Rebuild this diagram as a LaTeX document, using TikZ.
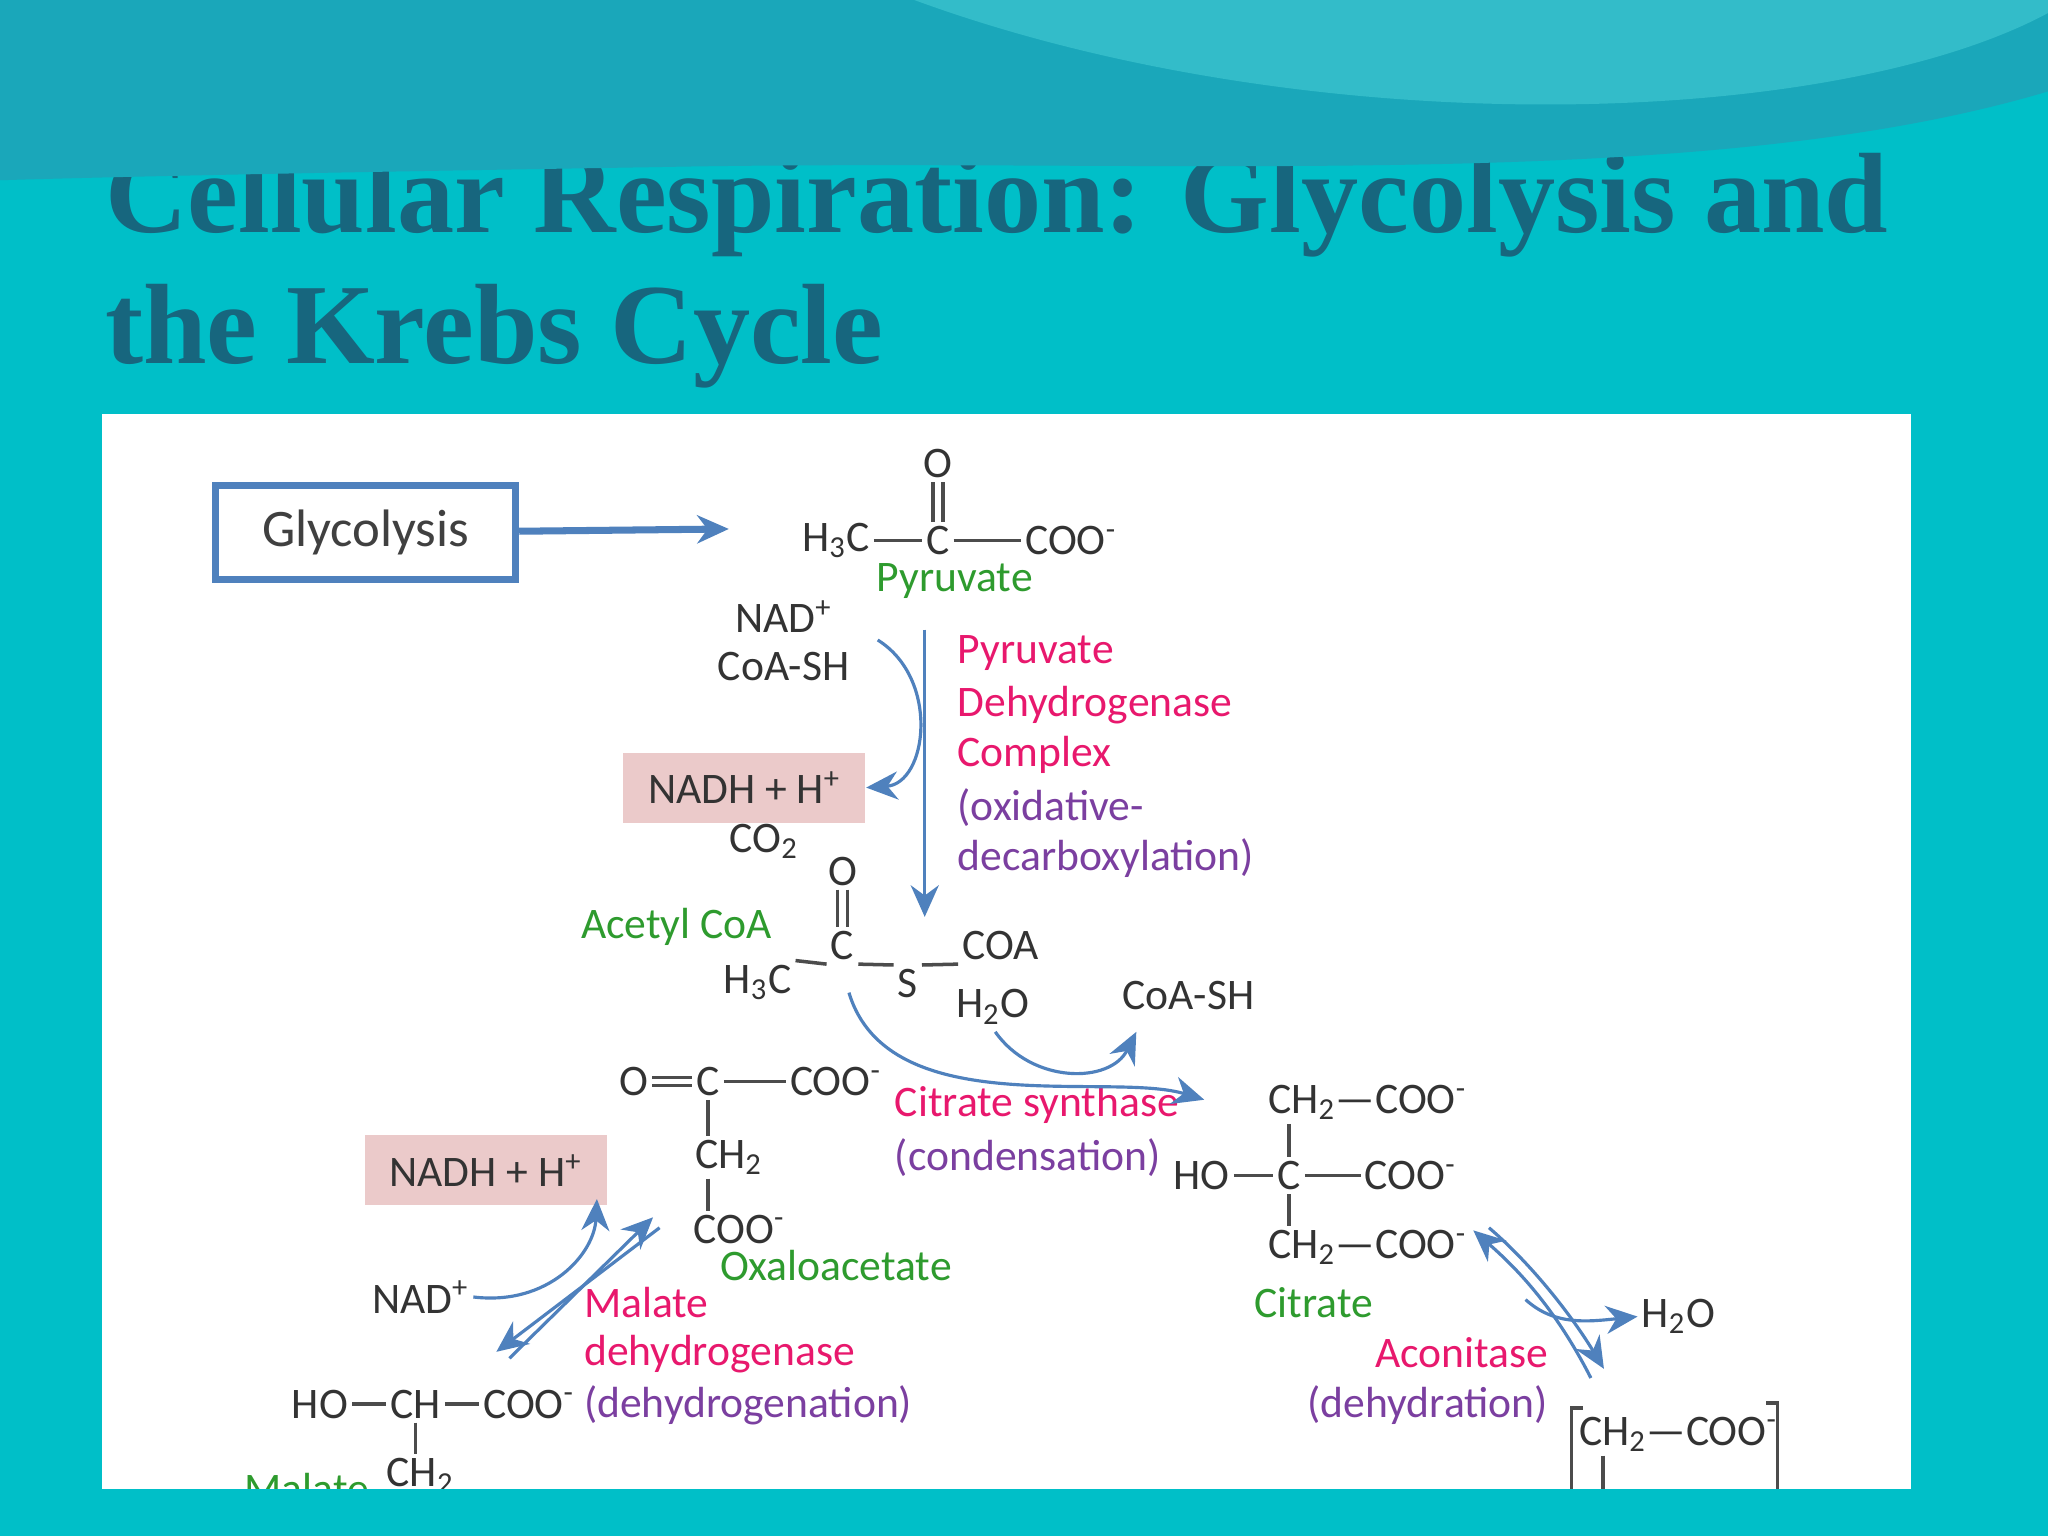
\documentclass[tikz,border=0pt]{standalone}
\usepackage{fontspec}
\setmainfont{Liberation Serif}
\setsansfont{Carlito}
\usetikzlibrary{arrows.meta}
\definecolor{sea}{HTML}{00BFC8}
\definecolor{wave}{HTML}{1AA7BA}
\definecolor{titlec}{HTML}{17667E}
\definecolor{arrowc}{HTML}{4F81BD}
\definecolor{enzc}{HTML}{E8186D}
\definecolor{procc}{HTML}{7B3FA0}
\definecolor{namec}{HTML}{2E9B2E}
\definecolor{boxc}{HTML}{EBCACA}
\newcommand{\sub}[1]{\textsubscript{#1}}
\newcommand{\chg}[1]{\textsuperscript{#1}}
\begin{document}
\begin{tikzpicture}[x=0.01306cm,y=-0.01306cm,>={Stealth[length=9pt,width=8pt]},
  chem/.style={font=\sffamily\fontsize{12.4}{14}\selectfont,text=black!80,inner sep=1pt},
  enz/.style={font=\sffamily\fontsize{12.4}{14}\selectfont,text=enzc,inner sep=1pt,anchor=west},
  proc/.style={font=\sffamily\fontsize{12.4}{14}\selectfont,text=procc,inner sep=1pt,anchor=west},
  cname/.style={font=\sffamily\fontsize{12.4}{14}\selectfont,text=namec,inner sep=1pt},
  prod/.style={chem,fill=boxc,minimum width=2.42cm,minimum height=0.7cm},
  bond/.style={black!70,line width=1pt},
  rxn/.style={->,arrowc,line width=0.9pt}]
  \useasboundingbox (0,0) rectangle (1568,1176);

  % slide background
  \fill[sea] (0,0) rectangle (1568,1176);
  \node (title1) at (80,178) [anchor=base west,font=\bfseries\fontsize{32.5}{36}\selectfont,text=titlec,inner sep=0pt]
    {Cellular Respiration: Glycolysis and};
  \fill[wave] (0,0) -- (1568,0) -- (1568,70) .. controls (1300,150) and (900,120) .. (500,128)
    .. controls (250,132) and (100,135) .. (0,138) -- cycle;
  \fill[sea!70!white,opacity=0.5] (700,0) .. controls (1000,110) and (1400,100) .. (1568,10) -- (1568,0) -- cycle;
  \node (title2) at (80,278) [anchor=base west,font=\bfseries\fontsize{32.5}{36}\selectfont,text=titlec,inner sep=0pt]
    {the Krebs Cycle};

  \fill[white] (78,317) rectangle (1463,1140);
  \begin{scope}
  \clip (78,317) rectangle (1463,1140);

  % pyruvate
  \node (glyc) at (280,408) [draw=arrowc,line width=2pt,minimum width=3cm,minimum height=0.94cm,
    font=\sffamily\fontsize{15}{17}\selectfont,text=black!75] {Glycolysis};
  \coordinate (pyrin) at (558,405);
  \draw[->,arrowc,line width=2pt] (glyc) -- (pyrin);
  \node (h3c1) at (640,414) [chem] {H\sub{3}C};
  \node (c1)   at (718,414) [chem] {C};
  \node (coo1) at (820,414) [chem] {COO\chg{-}};
  \node (o1)   at (718,355) [chem] {O};
  \draw[bond] (h3c1) -- (c1) (c1) -- (coo1);
  \draw[bond] ([xshift=-0.05cm]o1.south) -- ([xshift=-0.05cm]c1.north) ([xshift=0.05cm]o1.south) -- ([xshift=0.05cm]c1.north);
  \node (pyr) at (731,445) [cname] {Pyruvate};

  % pyruvate dehydrogenase
  \node (nad1) at (600,472) [chem] {NAD\chg{+}};
  \node (coa1) at (600,510) [chem] {CoA-SH};
  \node (pdh)  at (730,500) [enz] {Pyruvate};
  \node (pdh2) at (730,540) [enz] {Dehydrogenase};
  \node (pdh3) at (730,578) [enz] {Complex};
  \node (pdh4) at (730,618) [proc] {(oxidative-};
  \node (pdh5) at (730,657) [proc] {decarboxylation)};
  \node (nadh1) at (570,603) [prod] {NADH + H\chg{+}};
  \node (co2) at (585,644) [chem] {CO\sub{2}};
  \coordinate (p1) at (708,482);
  \coordinate (p2) at (708,702);
  \draw[rxn] (p1) -- (p2);
  \coordinate (c1s) at (672,490);
  \draw[rxn] (c1s) .. controls (720,520) and (710,600) .. (nadh1.east);

  % acetyl CoA
  \node (o2)   at (645,667) [chem] {O};
  \node (c2)   at (645,724) [chem] {C};
  \node (h3c2) at (580,752) [chem] {H\sub{3}C};
  \node (s2)   at (695,753) [chem] {S};
  \node (coa2) at (766,724) [chem] {COA};
  \draw[bond] ([xshift=-0.05cm]o2.south) -- ([xshift=-0.05cm]c2.north) ([xshift=0.05cm]o2.south) -- ([xshift=0.05cm]c2.north);
  \draw[bond] (h3c2.north east) -- (c2.south west) (c2.south east) -- (s2.north west) (s2.north east) -- (coa2.south west);
  \node (acoa) at (518,710) [cname] {Acetyl CoA};

  % citrate synthase
  \node (h2o1) at (760,771) [chem] {H\sub{2}O};
  \node (coa3) at (910,762) [chem] {CoA-SH};
  \node (cs)   at (682,846) [enz] {Citrate synthase};
  \node (cs2)  at (682,886) [proc] {(condensation)};
  \coordinate (cs0) at (650,760);
  \coordinate (cs1) at (922,842);
  \draw[rxn] (cs0) .. controls (680,860) and (850,820) .. (cs1);
  \coordinate (h2o1s) at (762,790);
  \coordinate (coa3in) at (870,790);
  \draw[rxn] (h2o1s) .. controls (790,830) and (850,830) .. (coa3in);

  % oxaloacetate
  \node (o3)   at (485,828) [chem] {O};
  \node (c3)   at (542,828) [chem] {C};
  \node (coo3) at (640,828) [chem] {COO\chg{-}};
  \node (ch3)  at (558,886) [chem] {CH\sub{2}};
  \node (coo4) at (566,941) [chem] {COO\chg{-}};
  \draw[bond] ([yshift=-0.04cm]o3.east) -- ([yshift=-0.04cm]c3.west) ([yshift=0.04cm]o3.east) -- ([yshift=0.04cm]c3.west);
  \draw[bond] (c3) -- (coo3);
  \draw[bond] (c3.south) -- (c3.south |- ch3.north) (c3.south |- ch3.south) -- (c3.south |- coo4.north);
  \node (oaa) at (640,969) [cname] {Oxaloacetate};

  % citrate
  \node (ch4)  at (1047,844) [chem] {CH\sub{2}---COO\chg{-}};
  \node (ho4)  at (920,900) [chem] {HO};
  \node (c4)   at (987,900) [chem] {C};
  \node (coo5) at (1080,900) [chem] {COO\chg{-}};
  \node (ch5)  at (1047,955) [chem] {CH\sub{2}---COO\chg{-}};
  \draw[bond] (ho4) -- (c4) (c4) -- (coo5);
  \draw[bond] (c4.north |- ch4.south) -- (c4.north) (c4.south) -- (c4.south |- ch5.north);
  \node (cit) at (1006,997) [cname] {Citrate};

  % malate dehydrogenase
  \node (nadh2) at (372,896) [prod] {NADH + H\chg{+}};
  \node (nad2)  at (322,993) [chem] {NAD\chg{+}};
  \node (md)  at (444,997) [enz] {Malate};
  \node (md2) at (444,1037) [enz] {dehydrogenase};
  \node (md3) at (444,1076) [proc] {(dehydrogenation)};
  \coordinate (nadh2in) at (457,918);
  \draw[rxn] (nad2.east) .. controls (420,1000) and (455,960) .. (nadh2in);
  \coordinate (m1) at (380,1035);
  \coordinate (m2) at (500,932);
  \coordinate (m3) at (390,1040);
  \coordinate (m4) at (505,940);
  \draw[rxn] (m4) -- (m1);
  \draw[rxn] (m3) -- (m2);

  % malate
  \node (ho6)  at (245,1075) [chem] {HO};
  \node (ch6)  at (318,1075) [chem] {CH};
  \node (coo6) at (405,1075) [chem] {COO\chg{-}};
  \node (ch7)  at (322,1130) [chem] {CH\sub{2}};
  \draw[bond] (ho6) -- (ch6) (ch6) -- (coo6) (ch6.south) -- (ch6.south |- ch7.north);
  \node (mal) at (235,1140) [cname] {Malate};

  % aconitase
  \node (h2o2) at (1285,1008) [chem] {H\sub{2}O};
  \node (ac)  at (1050,1036) [enz] {Aconitase};
  \node (ac2) at (998,1076) [proc] {(dehydration)};
  \coordinate (a1) at (1128,942);
  \coordinate (a2) at (1218,1055);
  \coordinate (a3) at (1140,940);
  \coordinate (a4) at (1228,1048);
  \draw[rxn] (a2) .. controls (1190,1000) and (1160,970) .. (a1);
  \draw[rxn] (a3) .. controls (1175,970) and (1205,1010) .. (a4);
  \coordinate (a5) at (1168,995);
  \draw[rxn] (a5) .. controls (1190,1015) and (1215,1012) .. (h2o2.west);
  \node (ch8) at (1285,1098) [chem] {CH\sub{2}---COO\chg{-}};
  \draw[bond] (1212,1150) -- (1203,1150) -- (1203,1078) -- (1212,1078);
  \draw[bond] (1352,1150) -- (1361,1150) -- (1361,1074) -- (1352,1074);
  \draw[bond] (ch8.south west) ++(0.28cm,0) -- ++(0,-0.5cm);
  \end{scope}
\end{tikzpicture}
\end{document}
